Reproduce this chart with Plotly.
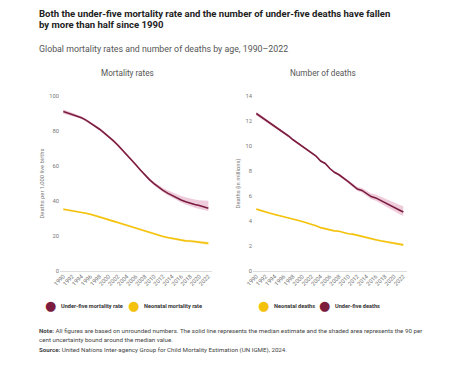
import plotly.graph_objects as go

# ---------------- data ----------------
years = list(range(1990, 2023))
tick_years = list(range(1990, 2023, 2))

u5mr = [91.2, 90.4, 89.5, 88.6, 87.6, 86.2, 84.6, 82.9, 81.0, 78.9,
        76.8, 74.5, 72.0, 69.3, 66.5, 63.6, 60.7, 57.7, 54.8, 52.2,
        49.9, 47.9, 46.1, 44.5, 43.1, 41.8, 40.6, 39.6, 38.7, 38.0,
        37.4, 36.6, 35.9]
u5mr_lo = [89.9, 89.3, 88.5, 87.7, 86.8, 85.4, 83.8, 82.1, 80.2, 78.1,
           76.0, 73.7, 71.2, 68.5, 65.7, 62.8, 59.9, 56.9, 54.0, 51.4,
           49.0, 46.9, 45.0, 43.3, 41.8, 40.4, 39.1, 38.0, 37.0, 36.2,
           35.5, 34.8, 34.3]
u5mr_hi = [92.5, 91.5, 90.5, 89.5, 88.4, 87.0, 85.4, 83.7, 81.8, 79.7,
           77.6, 75.3, 72.8, 70.1, 67.3, 64.4, 61.5, 58.5, 55.6, 53.1,
           50.9, 49.1, 47.5, 46.1, 44.9, 43.8, 42.9, 42.1, 41.4, 40.9,
           40.5, 40.3, 40.1]

nmr = [35.3, 34.9, 34.5, 34.1, 33.6, 33.0, 32.4, 31.7, 31.0, 30.2,
       29.3, 28.5, 27.7, 26.9, 26.1, 25.3, 24.5, 23.7, 22.9, 22.2,
       21.0, 20.3, 19.7, 19.1, 18.6, 17.9, 17.3, 17.2, 17.1, 16.8,
       16.5, 16.1, 15.8]
nmr_lo = [34.6, 34.3, 33.9, 33.5, 33.0, 32.4, 31.8, 31.1, 30.4, 29.6,
          28.7, 27.9, 27.1, 26.3, 25.5, 24.7, 23.9, 23.1, 22.3, 21.6,
          20.4, 19.7, 19.1, 18.5, 18.0, 17.3, 16.7, 16.5, 16.3, 16.0,
          15.6, 15.2, 14.9]
nmr_hi = [36.0, 35.5, 35.1, 34.7, 34.2, 33.6, 33.0, 32.3, 31.6, 30.8,
          29.9, 29.1, 28.3, 27.5, 26.7, 25.9, 25.1, 24.3, 23.5, 22.8,
          21.6, 20.9, 20.3, 19.7, 19.2, 18.6, 18.0, 17.9, 17.9, 17.7,
          17.4, 17.1, 16.9]

u5_deaths = [12.60, 12.35, 12.05, 11.80, 11.60, 11.30, 11.05, 10.80, 10.50, 10.25,
             10.00, 9.75, 9.50, 9.20, 8.80, 8.60, 8.20, 7.90, 7.70, 7.45,
             7.15, 6.85, 6.55, 6.45, 6.20, 5.95, 5.85, 5.65, 5.45, 5.25,
             5.10, 4.90, 4.72]
u5_deaths_lo = [12.45, 12.21, 11.92, 11.68, 11.49, 11.20, 10.96, 10.71, 10.42, 10.17,
                9.92, 9.67, 9.42, 9.12, 8.72, 8.52, 8.12, 7.82, 7.61, 7.35,
                7.04, 6.72, 6.40, 6.28, 6.01, 5.74, 5.62, 5.40, 5.18, 4.96,
                4.79, 4.58, 4.40]
u5_deaths_hi = [12.75, 12.49, 12.18, 11.92, 11.71, 11.40, 11.14, 10.89, 10.58, 10.33,
                10.08, 9.83, 9.58, 9.28, 8.88, 8.68, 8.28, 7.98, 7.80, 7.56,
                7.28, 7.00, 6.72, 6.65, 6.43, 6.20, 6.13, 5.96, 5.79, 5.62,
                5.50, 5.33, 5.18]

nn_deaths = [4.95, 4.82, 4.72, 4.62, 4.52, 4.44, 4.36, 4.26, 4.16, 4.06,
             3.96, 3.86, 3.76, 3.62, 3.47, 3.37, 3.27, 3.21, 3.18, 3.08,
             2.98, 2.95, 2.85, 2.75, 2.65, 2.57, 2.50, 2.42, 2.35, 2.30,
             2.21, 2.15, 2.09]
nn_deaths_lo = [4.88, 4.76, 4.66, 4.56, 4.46, 4.38, 4.30, 4.20, 4.10, 4.00,
                3.90, 3.80, 3.70, 3.56, 3.41, 3.31, 3.21, 3.15, 3.12, 3.02,
                2.92, 2.88, 2.78, 2.68, 2.58, 2.49, 2.42, 2.33, 2.26, 2.20,
                2.11, 2.04, 1.98]
nn_deaths_hi = [5.02, 4.88, 4.78, 4.68, 4.58, 4.50, 4.42, 4.32, 4.22, 4.12,
                4.02, 3.92, 3.82, 3.68, 3.53, 3.43, 3.33, 3.27, 3.24, 3.14,
                3.04, 3.02, 2.92, 2.82, 2.72, 2.65, 2.58, 2.51, 2.44, 2.40,
                2.31, 2.26, 2.21]

# ---------------- styling ----------------
OFF = 8                 # page body margin in the browser
FW, FH = 474 - 2 * OFF, 366 - 2 * OFF
MAROON = "#7b1c3e"
MAROON_BAND = "rgba(205,110,155,0.35)"
YELLOW = "#f4c20d"
YELLOW_BAND = "rgba(245,200,20,0.22)"
FONT = "Roboto"
GRAY = "#777777"


def fx(px):
    return (px - OFF) / FW


def fy(py):
    return 1 - (py - OFF) / FH


fig = go.Figure()


def add_series(xa, ya, med, lo, hi, line_color, band_color):
    fig.add_trace(go.Scatter(x=years, y=hi, xaxis=xa, yaxis=ya, mode="lines",
                             line=dict(width=0), hoverinfo="skip", showlegend=False))
    fig.add_trace(go.Scatter(x=years, y=lo, xaxis=xa, yaxis=ya, mode="lines",
                             line=dict(width=0), fill="tonexty", fillcolor=band_color,
                             hoverinfo="skip", showlegend=False))
    fig.add_trace(go.Scatter(x=years, y=med, xaxis=xa, yaxis=ya, mode="lines",
                             line=dict(color=line_color, width=1.6), showlegend=False))


add_series("x", "y", u5mr, u5mr_lo, u5mr_hi, MAROON, MAROON_BAND)
add_series("x", "y", nmr, nmr_lo, nmr_hi, YELLOW, YELLOW_BAND)
add_series("x2", "y2", u5_deaths, u5_deaths_lo, u5_deaths_hi, MAROON, MAROON_BAND)
add_series("x2", "y2", nn_deaths, nn_deaths_lo, nn_deaths_hi, YELLOW, YELLOW_BAND)

tickfont = dict(family=FONT, size=5.8, color=GRAY)
xcommon = dict(tickvals=tick_years, tickangle=-45, tickfont=tickfont, showgrid=False,
               zeroline=False, showline=False, ticks="", fixedrange=True, automargin=False)
ycommon = dict(showgrid=False, zeroline=True, zerolinecolor="#dddddd", zerolinewidth=1,
               showline=False, ticks="", tickfont=tickfont, fixedrange=True, automargin=False)

ydom = [fy(271), fy(96)]
fig.update_layout(
    width=FW, height=FH,
    margin=dict(l=0, r=0, t=0, b=0, autoexpand=False),
    paper_bgcolor="white", plot_bgcolor="white",
    font=dict(family=FONT),
    showlegend=False,
    xaxis=dict(domain=[fx(60), fx(212)], range=[1989.27, 2022.8], anchor="y", **xcommon),
    yaxis=dict(domain=ydom, range=[0, 100], tickvals=[0, 20, 40, 60, 80, 100], anchor="x",
               title=dict(text="Deaths per 1,000 live births",
                          font=dict(family=FONT, size=5.8, color=GRAY), standoff=4),
               **ycommon),
    xaxis2=dict(domain=[fx(253), fx(407)], range=[1989.28, 2022.8], anchor="y2", **xcommon),
    yaxis2=dict(domain=ydom, range=[0, 14], tickvals=[0, 2, 4, 6, 8, 10, 12, 14], anchor="x2",
                title=dict(text="Deaths (in millions)",
                           font=dict(family=FONT, size=5.8, color=GRAY), standoff=4),
                **ycommon),
)

ann = []


def text(px, py, s, size, color="#333333", xanchor="left", family=FONT):
    ann.append(dict(x=fx(px), y=fy(py), xref="paper", yref="paper", text=s,
                    showarrow=False, xanchor=xanchor, yanchor="middle",
                    font=dict(family=family, size=size, color=color)))


text(37, 14, "<b>Both the under-five mortality rate and the number of under-five deaths have fallen</b>", 9.55, "#222222")
text(37, 24.5, "<b>by more than half since 1990</b>", 9.55, "#222222")
text(37, 49, "Global mortality rates and number of deaths by age, 1990\u20132022", 8.8, "#555555")
text(127.5, 73, "Mortality rates", 8.2, "#555555", "center")
text(323, 73, "Number of deaths", 8.2, "#555555", "center")

# legends
legend_items = [
    (50.7, MAROON, "Under-five mortality rate"),
    (133.3, YELLOW, "Neonatal mortality rate"),
    (263.3, YELLOW, "Neonatal deaths"),
    (324.3, MAROON, "Under-five deaths"),
]
for cx, col, lab in legend_items:
    text(cx, 305.5, "\u25cf", 13, col, "center", "DejaVu Sans")
    text(cx + 8.5, 305.7, "<b>" + lab + "</b>", 5.6, "#333333")

text(37, 331, "<b>Note:</b> All figures are based on unrounded numbers. The solid line represents the median estimate and the shaded area represents the 90 per", 6.2, "#444444")
text(37, 340.3, "cent uncertainty bound around the median value.", 6.2, "#444444")
text(37, 350, "<b>Source:</b> United Nations Inter-agency Group for Child Mortality Estimation (UN IGME), 2024.", 6.2, "#444444")

fig.update_layout(annotations=ann)
fig.write_html("out.html")
